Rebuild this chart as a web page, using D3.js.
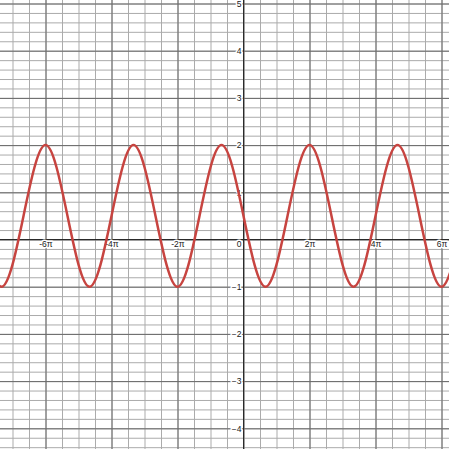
<!DOCTYPE html>
<html>
<head>
<meta charset="utf-8">
<script src="https://cdn.jsdelivr.net/npm/d3@7"></script>
<style>
  body { margin: 0; background: #fff; }
  svg { display: block; }
  .lbl text { font-family: "Liberation Sans", Arial, sans-serif; font-size: 8.5px; fill: #222;
    stroke: #fff; stroke-width: 3px; stroke-linejoin: round; paint-order: stroke; }
</style>
</head>
<body>
<svg id="chart" width="449" height="449"></svg>
<script>
// curve key points (x in multiples of pi)
const curveX = [-8, -22/3, -20/3, -6, -16/3, -14/3, -4, -10/3, -8/3, -2, -4/3, -2/3,
                0, 2/3, 4/3, 2, 8/3, 10/3, 4, 14/3, 16/3, 6, 20/3];
const curveY = [0.5, -1, 0.5, 2, 0.5, -1, 0.5, 2, 0.5, -1, 0.5, 2,
                0.5, -1, 0.5, 2, 0.5, -1, 0.5, 2, 0.5, -1, 0.5];

const xTickValues = [-6, -4, -2, 2, 4, 6];
const xTickLabels = ["-6π", "-4π", "-2π", "2π", "4π", "6π"];
const yTickValues = [5, 4, 3, 2, 1, -1, -2, -3, -4];

const width = 449, height = 449;
const svg = d3.select("#chart");

const x = d3.scaleLinear().domain([-7.379, 6.227]).range([0, width]);
const y = d3.scaleLinear().domain([-4.4386, 5.0742]).range([height, 0]);

const minorX = d3.range(-16, 15).map(d => d / 2);
const majorX = d3.range(-8, 8, 2);
const minorY = d3.range(-22, 26).map(d => d / 5);
const majorY = d3.range(-4, 6);

const minorColor = "#ababab";
const majorColor = "#6a6a6a";

// grid lines, drawn with axes whose ticks span the whole plot
function vGrid(vals, color) {
  svg.append("g")
    .call(d3.axisBottom(x).tickValues(vals).tickSize(height).tickFormat(""))
    .call(g => g.select(".domain").remove())
    .selectAll("line").attr("stroke", color);
}
function hGrid(vals, color) {
  svg.append("g")
    .call(d3.axisRight(y).tickValues(vals).tickSize(width).tickFormat(""))
    .call(g => g.select(".domain").remove())
    .selectAll("line").attr("stroke", color);
}
vGrid(minorX, minorColor);
hGrid(minorY, minorColor);
vGrid(majorX, majorColor);
hGrid(majorY, majorColor);

// axes
svg.append("line").attr("x1", 0).attr("x2", width).attr("y1", y(0)).attr("y2", y(0))
  .attr("stroke", "#2a2a2a").attr("stroke-width", 1);
svg.append("line").attr("x1", x(0)).attr("x2", x(0)).attr("y1", 0).attr("y2", height)
  .attr("stroke", "#2a2a2a").attr("stroke-width", 1);

// labels
svg.append("g").attr("class", "lbl")
  .attr("transform", `translate(0,${y(0)})`)
  .call(d3.axisBottom(x).tickValues(xTickValues).tickFormat((d, i) => xTickLabels[i]).tickSize(0).tickPadding(1.5))
  .call(g => g.select(".domain").remove())
  .attr("font-family", null).attr("font-size", null);

svg.append("g").attr("class", "lbl")
  .attr("transform", `translate(${x(0)},0)`)
  .call(d3.axisLeft(y).tickValues(yTickValues).tickSize(0).tickPadding(2))
  .call(g => g.select(".domain").remove())
  .attr("font-family", null).attr("font-size", null);

svg.append("g").attr("class", "lbl")
  .append("text")
  .attr("x", x(0) - 2).attr("y", y(0) + 7.5)
  .attr("text-anchor", "end")
  .text("0");

// curve
const pts = curveX.map((d, i) => [d, curveY[i]]);
svg.append("path")
  .datum(pts)
  .attr("fill", "none")
  .attr("stroke", "#c74440")
  .attr("stroke-width", 2.5)
  .attr("stroke-linejoin", "round")
  .attr("d", d3.line().x(d => x(d[0])).y(d => y(d[1])).curve(d3.curveNatural));
</script>
</body>
</html>
